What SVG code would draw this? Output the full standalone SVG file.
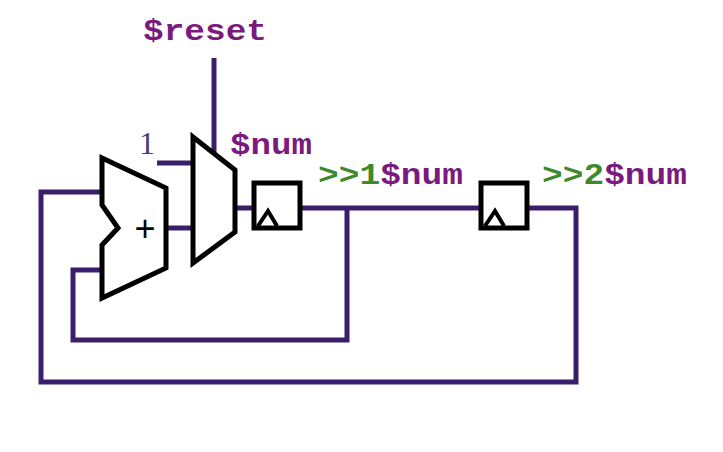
<svg xmlns="http://www.w3.org/2000/svg" width="723" height="452" viewBox="0 0 723 452">
<style>
.w{fill:none;stroke:#3b1e6b;stroke-width:5}
.s{fill:#fff;stroke:#000;stroke-width:5;stroke-linejoin:miter}
.t{font-family:"Liberation Mono",monospace;font-weight:bold;font-size:30px}
.p{fill:#7b1a7e}.g{fill:#3e8a2a}
</style>
<rect width="723" height="452" fill="#fff"/>
<g id="connectors">
<path class="w" d="M214 58V154"/>
<path class="w" d="M157 163H195"/>
<path class="w" d="M166 228H195"/>
<path class="w" d="M235 208H253"/>
<path class="w" d="M302 208H480"/>
<path class="w" d="M347 208V340H73V270H103"/>
<path class="w" d="M528 208H576V382H41V192H103"/>
</g>
<g id="adder"><path class="s" d="M102 158L166 188V268L102 298V245L118 228L102 205Z"/>
<text x="145" y="241" font-family="Liberation Sans,sans-serif" font-size="36" text-anchor="middle">+</text></g>
<g id="mux"><path class="s" d="M193 137L235 170V232L193 263Z"/></g>
<g id="flop1"><rect class="s" x="254" y="183" width="46" height="45"/><path d="M258 226L268 211L277 226" fill="none" stroke="#000" stroke-width="4"/></g>
<g id="flop2"><rect class="s" x="481" y="183" width="46" height="45"/><path d="M485 226L495 211L504 226" fill="none" stroke="#000" stroke-width="4"/></g>
<g id="labels">
<text class="t p" x="143" y="40" textLength="124" lengthAdjust="spacingAndGlyphs">$reset</text>
<text x="139" y="154" font-family="Liberation Serif,serif" font-size="32" fill="#4a3a78">1</text>
<text class="t p" x="230" y="154" textLength="82" lengthAdjust="spacingAndGlyphs">$num</text>
<text class="t" x="318" y="184" textLength="145" lengthAdjust="spacingAndGlyphs"><tspan class="g">&gt;&gt;1</tspan><tspan class="p">$num</tspan></text>
<text class="t" x="542" y="184" textLength="145" lengthAdjust="spacingAndGlyphs"><tspan class="g">&gt;&gt;2</tspan><tspan class="p">$num</tspan></text>
</g>
</svg>
